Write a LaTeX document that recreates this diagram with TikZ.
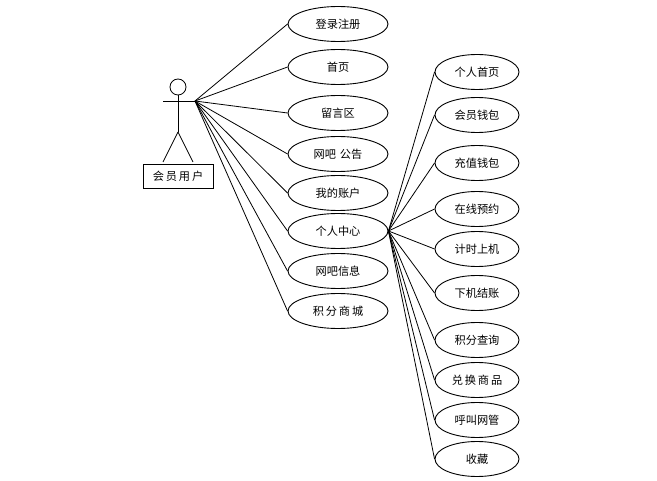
\documentclass[tikz,border=0pt]{standalone}
\usepackage{fontspec}
\newfontfamily\cjk{Noto Sans CJK SC}
\tikzset{
  uc/.style={draw, ellipse, minimum width=100pt, minimum height=35pt, inner sep=0pt, font=\cjk\fontsize{11.2}{12}\selectfont, line width=0.9pt},
  ucr/.style={uc, minimum width=84pt},
  ln/.style={line width=0.8pt}
}
\usetikzlibrary{shapes.geometric}
\begin{document}
\begin{tikzpicture}[x=1pt,y=-1pt]
\useasboundingbox (0,0) rectangle (657,481);
% actor
\draw[ln] (178,87) circle (8);
\draw[ln] (178,95) -- (178,132);
\draw[ln] (163,101) -- (195,101);
\draw[ln] (178,132) -- (163,162);
\draw[ln] (178,132) -- (193,162);
\coordinate (hand) at (195,101);
\node[draw, line width=0.9pt, minimum width=70pt, minimum height=24pt, inner sep=0pt, font=\cjk\fontsize{11.2}{12}\selectfont] (actor) at (178,176) {会\,员\,用\,户};
% middle
\node[uc] (m1) at (338,24) {登录注册};
\node[uc] (m2) at (338,67) {首页};
\node[uc] (m3) at (338,113) {留言区};
\node[uc] (m4) at (338,154) {网吧\,\,公告};
\node[uc] (m5) at (338,193) {我的账户};
\node[uc] (m6) at (338,231) {个人中心};
\node[uc] (m7) at (338,271) {网吧信息};
\node[uc] (m8) at (338,311) {积\,分\,商\,城};
\foreach \i in {1,...,8} \draw[ln] (hand) -- (m\i.west);
% right
\node[ucr] (r1) at (477,72) {个人首页};
\node[ucr] (r2) at (477,115) {会员钱包};
\node[ucr] (r3) at (477,163) {充值钱包};
\node[ucr] (r4) at (477,209) {在线预约};
\node[ucr] (r5) at (477,249) {计时上机};
\node[ucr] (r6) at (477,293) {下机结账};
\node[ucr] (r7) at (477,340) {积分查询};
\node[ucr] (r8) at (477,380) {兑\,换\,商\,品};
\node[ucr] (r9) at (477,420) {呼叫网管};
\node[ucr] (r10) at (477,459) {收藏};
\foreach \i in {1,...,10} \draw[ln] (m6.east) -- (r\i.west);
\end{tikzpicture}
\end{document}
